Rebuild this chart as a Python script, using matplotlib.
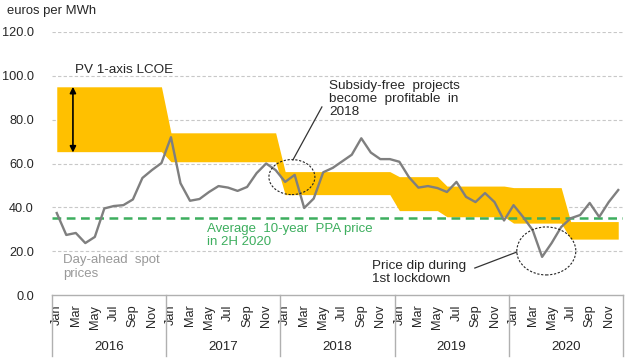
import matplotlib
matplotlib.use("Agg")
import matplotlib.pyplot as plt
from matplotlib.patches import Ellipse
import matplotlib.transforms as mtransforms
import numpy as np

plt.rcParams['font.family'] = ['Liberation Sans', 'DejaVu Sans']

years = ['2016', '2017', '2018', '2019', '2020']
month_names = ['Jan', 'Feb', 'Mar', 'Apr', 'May', 'Jun',
               'Jul', 'Aug', 'Sep', 'Oct', 'Nov', 'Dec']

spot_price = [
    37.4, 27.4, 28.3, 23.7, 26.5, 39.5, 40.6, 41.0, 43.6, 53.4, 57.0, 60.2,
    72.0, 51.0, 43.0, 43.8, 47.0, 49.7, 49.0, 47.5, 49.3, 55.6, 60.0, 57.0,
    51.6, 54.8, 39.7, 44.0, 56.0, 58.0, 61.0, 64.0, 71.5, 65.0, 62.0, 62.0,
    60.8, 53.8, 49.0, 49.7, 48.8, 47.0, 51.6, 44.8, 42.4, 46.5, 42.4, 34.0,
    41.0, 35.6, 29.7, 17.4, 23.7, 31.0, 35.0, 36.5, 42.0, 35.6, 42.4, 47.9,
]

lcoe_upper = (
    [95.0] * 12 +
    [74.0] * 12 +
    [56.3] * 12 +
    [54.0] * 5 + [49.7] * 7 +
    [49.0] * 6 + [33.5] * 6
)
lcoe_lower = (
    [65.4] * 12 +
    [60.8] * 12 +
    [45.8] * 12 +
    [38.5] * 5 + [35.7] * 7 +
    [32.8] * 6 + [25.5] * 6
)

ppa_price = 35.0

n = len(spot_price)
x = np.arange(n)

fig = plt.figure(figsize=(6.4, 3.59), dpi=100)
ax = fig.add_axes([52 / 640, 1 - 295 / 359, (623 - 52) / 640, (295 - 32) / 359])

ax.set_xlim(-0.5, n - 0.5)
ax.set_ylim(0, 120)

TXT = '#262626'
FS_TICK = 9.2
FS_ANN = 9.7

# grid
for yv in [20, 40, 60, 80, 100, 120]:
    ax.axhline(yv, color='#c8c8c8', lw=0.8, ls=(0, (3, 2)), zorder=0)

ax.fill_between(x, lcoe_lower, lcoe_upper, color='#FFC000', lw=0, zorder=1)
ax.plot([-0.5, n - 0.5], [ppa_price, ppa_price], color='#3DAE5E', lw=1.8,
        ls=(0, (3.5, 2.2)), zorder=2)
ax.plot(x, spot_price, color='#7f7f7f', lw=1.7, zorder=3)

# spines
for s in ['left', 'right', 'top']:
    ax.spines[s].set_visible(False)
ax.spines['bottom'].set_color('#b0b0b0')
ax.spines['bottom'].set_linewidth(1.0)

# y ticks
yt = [0, 20, 40, 60, 80, 100, 120]
ax.set_yticks(yt)
ax.set_yticklabels([f'{v:.1f}' for v in yt], fontsize=FS_TICK, color=TXT)
ax.tick_params(axis='y', length=0, pad=13)

# x ticks: odd months
tick_pos = [i for i in range(n) if i % 2 == 0]
tick_lab = [month_names[i % 12] for i in tick_pos]
ax.set_xticks(tick_pos)
ax.set_xticklabels(tick_lab, rotation=90, fontsize=FS_TICK, color=TXT)
ax.tick_params(axis='x', length=0, pad=7)

trans = mtransforms.blended_transform_factory(ax.transData, ax.transAxes)
sep_bottom = -(356 - 295) / 263
for k in range(len(years) + 1):
    xs = k * 12 - 0.5
    ax.plot([xs, xs], [0, sep_bottom], transform=trans, color='#b0b0b0',
            lw=1.0, clip_on=False)
for k, yr in enumerate(years):
    ax.text(k * 12 + 5.5, -(347 - 295) / 263, yr, transform=trans,
            ha='center', va='center', fontsize=9.6, color=TXT)

# top label
fig.text(7 / 640, 1 - 11 / 359, 'euros per MWh', ha='left', va='center',
         fontsize=9.4, color=TXT)

# LCOE annotation
ax.text(1.92, 102.7, 'PV 1-axis LCOE', ha='left', va='center',
        fontsize=FS_ANN, color=TXT)
ax.annotate('', xy=(1.7, 95), xytext=(1.7, 65),
            arrowprops=dict(arrowstyle='<|-|>', color='black', lw=1.2,
                            mutation_scale=9, shrinkA=0, shrinkB=0))

# Subsidy-free annotation
ax.add_patch(Ellipse((24.71, 53.8), 4.83, 16.0, fill=False, ls=(0, (2, 1.5)),
                     lw=0.8, edgecolor='#222222', zorder=4))
ax.plot([24.81, 27.86], [61.6, 85.8], color='#333333', lw=0.9, zorder=4)
ax.text(28.6, 89.4, 'Subsidy-free  projects\nbecome  profitable  in\n2018',
        ha='left', va='center', fontsize=FS_ANN, color=TXT, linespacing=1.15)

# Price dip annotation
ax.add_patch(Ellipse((51.44, 20.1), 6.2, 21.9, fill=False, ls=(0, (2, 1.5)),
                     lw=0.8, edgecolor='#222222', zorder=4))
ax.plot([43.93, 48.34], [12.3, 19.6], color='#333333', lw=0.9, zorder=4)
ax.text(33.1, 10.3, 'Price dip during\n1st lockdown', ha='left', va='center',
        fontsize=FS_ANN, color=TXT, linespacing=1.15)

# PPA text
ax.text(15.78, 27.1, 'Average  10-year  PPA price\nin 2H 2020', ha='left',
        va='center', fontsize=9.5, color='#3DAE5E', linespacing=1.15)

# Spot text
ax.text(0.66, 12.8, 'Day-ahead  spot\nprices', ha='left', va='center',
        fontsize=9.5, color='#999999', linespacing=1.15)

fig.savefig('out.png', dpi=100)
